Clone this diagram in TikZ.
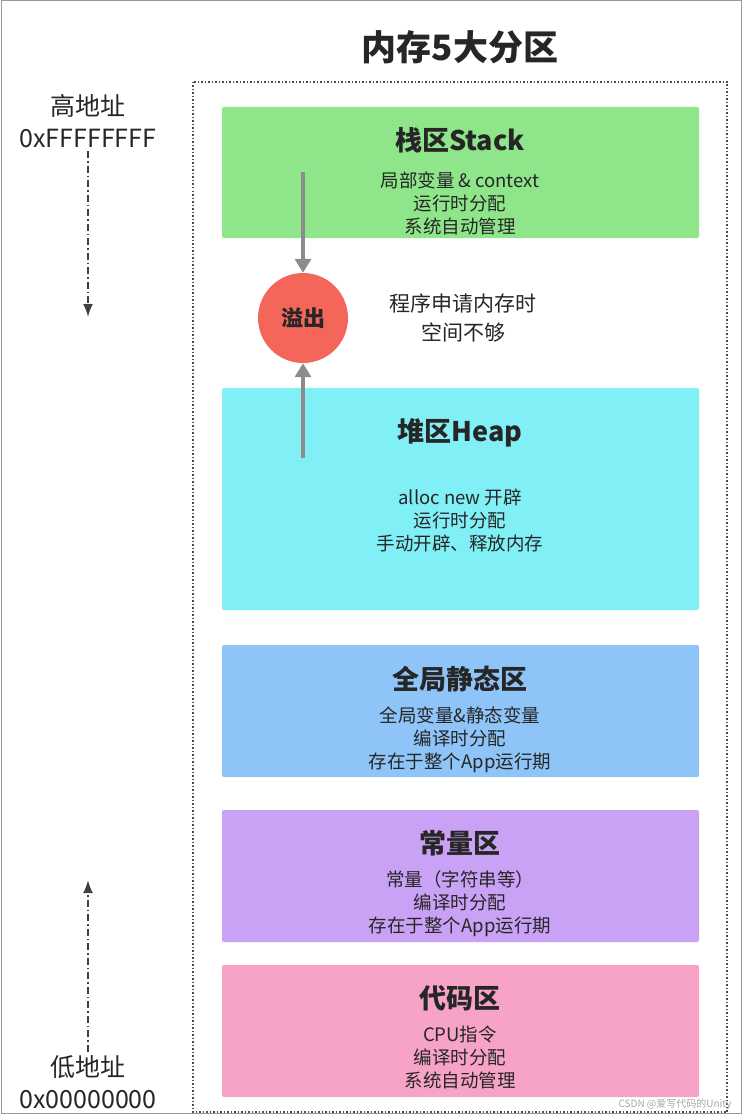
\documentclass[tikz,border=0pt]{standalone}
\usepackage{fontspec}
\setmainfont{Noto Sans CJK SC}
\usetikzlibrary{arrows.meta}
\definecolor{cstack}{HTML}{8FE68A}
\definecolor{cheap}{HTML}{80F0F6}
\definecolor{cglob}{HTML}{8EC4F8}
\definecolor{cconst}{HTML}{C9A2F6}
\definecolor{ccode}{HTML}{F7A3C7}
\definecolor{cred}{HTML}{F4665A}
\tikzset{
 zone/.style={fill=#1,draw=none,rounded corners=2pt},
 ztitle/.style={font=\fontsize{27}{30}\selectfont\bfseries,text=black!85},
 zbody/.style={font=\fontsize{18.5}{23}\selectfont,align=center,text=black!85},
 side/.style={font=\fontsize{25}{32}\selectfont,align=center,text=black!85},
 ddarrow/.style={dash pattern=on 7pt off 3pt on 1.5pt off 3pt,line width=2pt,-{Latex[length=13pt,width=10pt]},black!75},
 grarrow/.style={line width=4.5pt,black!45,-{Triangle[length=14pt,width=16pt]}}
}
\begin{document}
\begin{tikzpicture}[x=1pt,y=-1pt]
\useasboundingbox (0,0) rectangle (746,1118);
\draw[black!40,line width=1pt] (1,1) rectangle (741,1113);
\node[font=\fontsize{35}{38}\selectfont\bfseries,text=black!85] (title) at (460,47) {内存5大分区};
\draw[dotted,line width=1.5pt,black!70] (193,82) rectangle (727,1112);
% zones
\fill[zone=cstack] (222,107) rectangle (699,238);
\fill[zone=cheap] (222,388) rectangle (699,610);
\fill[zone=cglob] (222,645) rectangle (699,777);
\fill[zone=cconst] (222,810) rectangle (699,942);
\fill[zone=ccode] (222,965) rectangle (699,1097);
\node[ztitle] (t1) at (460,140) {栈区Stack};
\node[zbody] (b1) at (460,203) {局部变量 \& context\\运行时分配\\系统自动管理};
\node[ztitle] (t2) at (460,433) {堆区Heap};
\node[zbody] (b2) at (460,520) {alloc new 开辟\\运行时分配\\手动开辟、释放内存};
\node[ztitle] (t3) at (460,679) {全局静态区};
\node[zbody] (b3) at (460,740) {全局变量\&静态变量\\编译时分配\\存在于整个App运行期};
\node[ztitle] (t4) at (460,843) {常量区};
\node[zbody] (b4) at (460,904) {常量（字符串等）\\编译时分配\\存在于整个App运行期};
\node[ztitle] (t5) at (460,998) {代码区};
\node[zbody] (b5) at (460,1057) {CPU指令\\编译时分配\\系统自动管理};
% overflow
\node[circle,fill=cred,minimum size=90pt,inner sep=0pt,font=\fontsize{22}{24}\selectfont\bfseries,text=black!85] (ov) at (303,318) {溢出};
\coordinate (a1) at (303,172);
\coordinate (a2) at (303,458);
\draw[grarrow] (a1) -- (ov.north);
\draw[grarrow] (a2) -- (ov.south);
\node[zbody,font=\fontsize{21}{29}\selectfont] (ovt) at (463,318) {程序申请内存时\\空间不够};
% sides
\node[side] (hi) at (88,121) {高地址\\0xFFFFFFFF};
\node[side] (lo) at (88,1082) {低地址\\0x00000000};
\coordinate (h2) at (88,317);
\coordinate (l2) at (88,880);
\draw[ddarrow] (hi.south) -- (h2);
\draw[ddarrow] (lo.north) -- (l2);
\node[font=\fontsize{10}{12}\selectfont,text=black!35,anchor=east] (wm) at (735,1104) {CSDN @爱写代码的Unity};
\end{tikzpicture}
\end{document}
